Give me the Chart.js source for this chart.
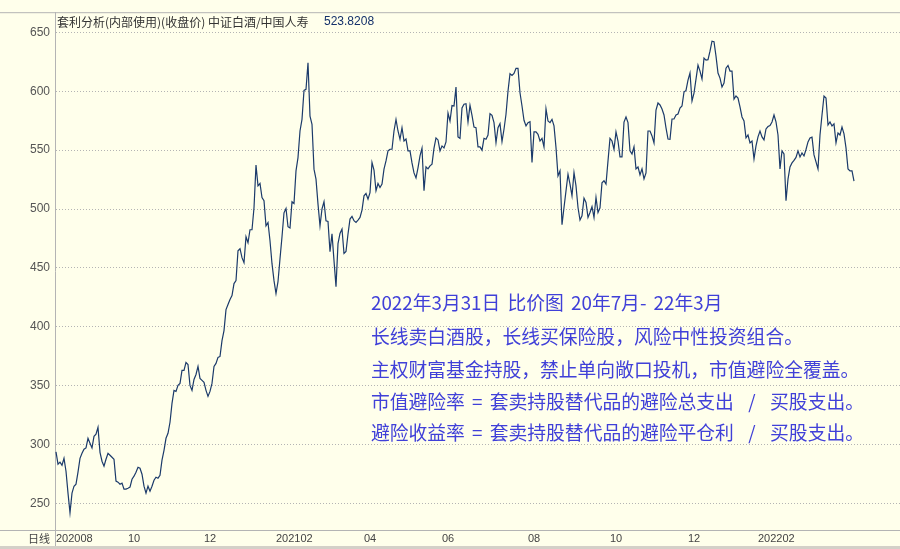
<!DOCTYPE html>
<html>
<head>
<meta charset="utf-8">
<script src="https://cdn.jsdelivr.net/npm/chart.js"></script>
<style>
  body { margin: 0; background: #ffffeb; overflow: hidden; }
  #wrap { position: relative; width: 900px; height: 549px; }
  canvas { position: absolute; left: 0; top: 0; }
  .txt { position: absolute; white-space: pre; }
  #title { left: 57px; top: 14px; font: 12px "Noto Sans CJK SC", sans-serif; line-height: 15px; color: #333; }
  #lastVal { left: 324px; top: 14px; font: 12px "Liberation Sans", sans-serif; line-height: 15px; color: #14306a; }
  #dayLine { left: 28px; top: 531px; font: 11px "Noto Sans CJK SC", sans-serif; line-height: 14px; color: #444; }
  .note { left: 371px; font: 18.8px "Noto Sans CJK SC", sans-serif; line-height: 24px; color: #4040d8; word-spacing: 3px; }
</style>
</head>
<body>
<div id="wrap">
  <canvas id="chart" width="900" height="549"></canvas>
  <div class="txt" id="title"></div>
  <div class="txt" id="lastVal"></div>
  <div class="txt" id="dayLine">日线</div>
</div>
<script>
// 中证白酒/中国人寿 收盘价比值, one value per trading day
const ratio = [
  293.7, 283.3, 285.0, 282.4, 288.3, 277.3, 258.7, 242.0, 258.7, 264.6,
  266.3, 276.5, 288.3, 292.6, 296.0, 297.1, 305.3, 301.1, 297.1, 307.0,
  308.7, 314.6, 293.4, 285.8, 281.6, 287.5, 292.6, 290.9, 289.2, 287.5,
  268.9, 268.0, 266.3, 267.2, 262.1, 262.1, 262.9, 263.8, 270.5, 273.1,
  276.5, 280.7, 279.9, 274.8, 264.6, 258.7, 264.6, 260.4, 264.6, 269.7,
  272.2, 271.4, 273.9, 286.7, 295.1, 305.3, 309.5, 318.9, 335.0, 346.0,
  345.1, 350.2, 351.9, 362.9, 362.9, 369.7, 368.0, 350.2, 346.0, 355.3,
  359.5, 366.3, 356.2, 354.5, 352.8, 346.0, 340.9, 345.1, 351.9, 366.3,
  368.9, 374.0, 374.8, 388.3, 396.8, 414.6, 418.9, 423.1, 426.5, 436.7,
  439.2, 464.6, 466.3, 458.7, 454.5, 476.5, 471.4, 482.4, 482.4, 501.1,
  537.3, 519.7, 521.7, 509.8, 507.0, 485.8, 488.6, 473.1, 453.6, 439.2,
  428.2, 438.4, 457.8, 476.5, 496.8, 500.5, 485.0, 483.9, 506.2, 504.7,
  532.4, 543.7, 566.3, 576.2, 600.8, 601.7, 624.2, 579.0, 572.0, 533.9,
  525.4, 504.2, 485.8, 500.2, 506.2, 490.1, 489.5, 463.8, 479.0, 456.2,
  434.1, 470.6, 479.3, 483.0, 462.3, 464.0, 478.8, 491.5, 493.7, 490.1,
  488.6, 490.6, 492.9, 499.1, 511.2, 513.2, 508.4, 514.0, 539.5, 533.0,
  515.5, 521.7, 518.3, 521.2, 533.9, 540.9, 549.4, 550.8, 550.8, 566.3,
  576.1, 566.3, 559.3,
  569.1, 557.8, 559.5, 549.4, 549.4, 539.2, 530.7, 526.5, 535.0, 545.1,
  551.7, 515.5, 535.8, 534.1, 536.7, 538.1, 551.7, 560.4, 558.7, 549.4,
  553.6, 551.9, 557.0, 581.6, 574.8, 587.9, 587.5, 603.6, 561.3, 560.1,
  585.8, 589.0, 589.5, 574.0, 588.1, 579.6, 569.7, 569.1, 552.8, 552.8,
  550.0, 560.1, 559.3, 562.9, 581.0, 579.6, 573.4, 556.4, 569.1, 572.5,
  557.3, 567.8, 580.5, 600.2, 614.9, 613.5, 615.2, 619.5, 619.5, 598.8,
  587.5, 575.4, 570.6, 573.4, 574.2, 539.5, 565.5, 565.5, 563.5, 557.8,
  560.1, 552.8, 585.2, 574.8, 573.4, 576.2, 570.6, 552.2, 528.2, 532.4,
  486.7, 501.3, 515.5, 529.6, 521.2, 511.2, 531.0, 519.7, 501.3, 490.7,
  494.3, 509.3, 505.6, 492.9, 497.1, 502.0, 492.9, 509.8, 497.1, 501.1,
  522.3, 524.0, 521.2, 540.9, 560.1, 557.8, 550.8, 565.5, 557.8, 544.3,
  544.3, 573.9, 578.2, 573.4, 549.4, 546.8, 552.8, 534.1, 535.8, 529.0,
  534.1, 525.6, 530.7, 566.3, 566.3, 562.1, 556.2, 584.1, 590.1, 588.4,
  585.0, 579.9, 568.9, 559.5, 559.3, 576.5, 576.5, 579.9, 580.7, 585.8,
  587.5, 599.4, 600.8, 609.5, 615.5, 591.8, 598.5, 610.4, 622.3, 617.2,
  610.4, 628.2, 626.5, 626.9, 634.1, 642.6, 642.2, 629.9, 615.5, 611.2,
  603.6, 607.0, 619.7, 622.0, 617.2, 617.2, 593.4, 596.0, 594.3, 586.7,
  578.2, 574.8, 560.4, 562.9, 556.2, 557.8, 542.6, 553.6, 561.3, 566.3,
  561.3, 558.7, 568.0, 570.1, 571.0, 574.0, 579.9, 574.0, 562.9, 534.1,
  549.4, 546.8, 507.0, 525.4, 535.8, 539.2, 541.3, 543.9, 549.4, 544.3,
  547.7, 545.1, 550.6, 557.0, 560.4, 561.1, 546.0, 540.1, 534.1, 562.9,
  579.9, 596.0, 594.3, 571.4, 574.0, 570.6, 572.3, 556.2, 564.6, 562.9,
  569.7, 563.8, 552.0, 534.1, 532.4, 532.4, 523.8
];

// month marks on the time axis (index of first trading day shown)
const monthLabels = ['202008', '10', '12', '202102', '04', '06', '08', '10', '12', '202202'];
const monthTickIdx = [0, 36, 74, 110, 154, 193, 236, 277, 316, 351];

const yTicks = [250, 300, 350, 400, 450, 500, 550, 600, 650];

const titleText = '套利分析(内部使用)(收盘价) 中证白酒/中国人寿';
const lastValue = '523.8208';

const notes = [
  '2022年3月31日 比价图 20年7月- 22年3月',
  '长线卖白酒股，长线买保险股，风险中性投资组合。',
  '主权财富基金持股，禁止单向敞口投机，市值避险全覆盖。',
  '市值避险率 = 套卖持股替代品的避险总支出  /  买股支出。',
  '避险收益率 = 套卖持股替代品的避险平仓利  /  买股支出。'
];
const noteTops = [290, 324, 357, 389, 420];

document.getElementById('title').textContent = titleText;
document.getElementById('lastVal').textContent = lastValue;
const wrap = document.getElementById('wrap');
notes.forEach((t, i) => {
  const d = document.createElement('div');
  d.className = 'txt note';
  d.style.top = noteTops[i] + 'px';
  d.textContent = t;
  wrap.appendChild(d);
});

// frame pieces outside the plot area
const framePlugin = {
  id: 'frame',
  beforeDraw(chart) {
    const ctx = chart.ctx;
    const a = chart.chartArea;
    ctx.save();
    ctx.fillStyle = '#ffffeb';
    ctx.fillRect(0, 0, chart.width, chart.height);
    ctx.fillStyle = '#d4d0c8';
    ctx.fillRect(0, 546, chart.width, 3);
    ctx.strokeStyle = '#b4b4b4';
    ctx.lineWidth = 1;
    ctx.beginPath();
    ctx.moveTo(0, a.top + 0.5);
    ctx.lineTo(chart.width, a.top + 0.5);
    ctx.moveTo(0, a.bottom + 0.5);
    ctx.lineTo(a.left, a.bottom + 0.5);
    ctx.moveTo(a.left + 0.5, a.bottom);
    ctx.lineTo(a.left + 0.5, 546);
    ctx.stroke();
    ctx.restore();
  }
};

new Chart(document.getElementById('chart'), {
  type: 'line',
  data: {
    datasets: [{
      data: ratio.map((v, i) => ({ x: i, y: v })),
      borderColor: '#1b3a6a',
      borderWidth: 1.2,
      pointRadius: 0,
      tension: 0,
      fill: false
    }]
  },
  options: {
    responsive: false,
    animation: false,
    devicePixelRatio: 1,
    layout: { padding: { top: 11, left: 0, right: 0, bottom: 0 } },
    plugins: { legend: { display: false }, tooltip: { enabled: false } },
    scales: {
      x: {
        type: 'linear',
        min: -0.5,
        max: 422,
        afterBuildTicks: s => { s.ticks = monthTickIdx.map(v => ({ value: v })); },
        afterFit: s => { s.height = 19; },
        grid: { display: false, drawTicks: false },
        border: { display: true, color: '#b4b4b4', width: 1 },
        ticks: {
          autoSkip: false,
          maxRotation: 0,
          align: 'start',
          padding: 2,
          color: '#444',
          font: { family: 'Liberation Sans', size: 11 },
          callback: (v, i) => monthLabels[i]
        }
      },
      y: {
        min: 227.4,
        max: 667.2,
        afterBuildTicks: s => { s.ticks = yTicks.map(v => ({ value: v })); },
        afterFit: s => { s.width = 55; },
        grid: { color: '#b4b4b4', lineWidth: 1, drawTicks: false },
        border: { display: true, color: '#b4b4b4', width: 1, dash: [1, 2] },
        ticks: {
          padding: 5,
          color: '#555',
          font: { family: 'Liberation Sans', size: 12 }
        }
      }
    }
  },
  plugins: [framePlugin]
});
</script>
</body>
</html>
